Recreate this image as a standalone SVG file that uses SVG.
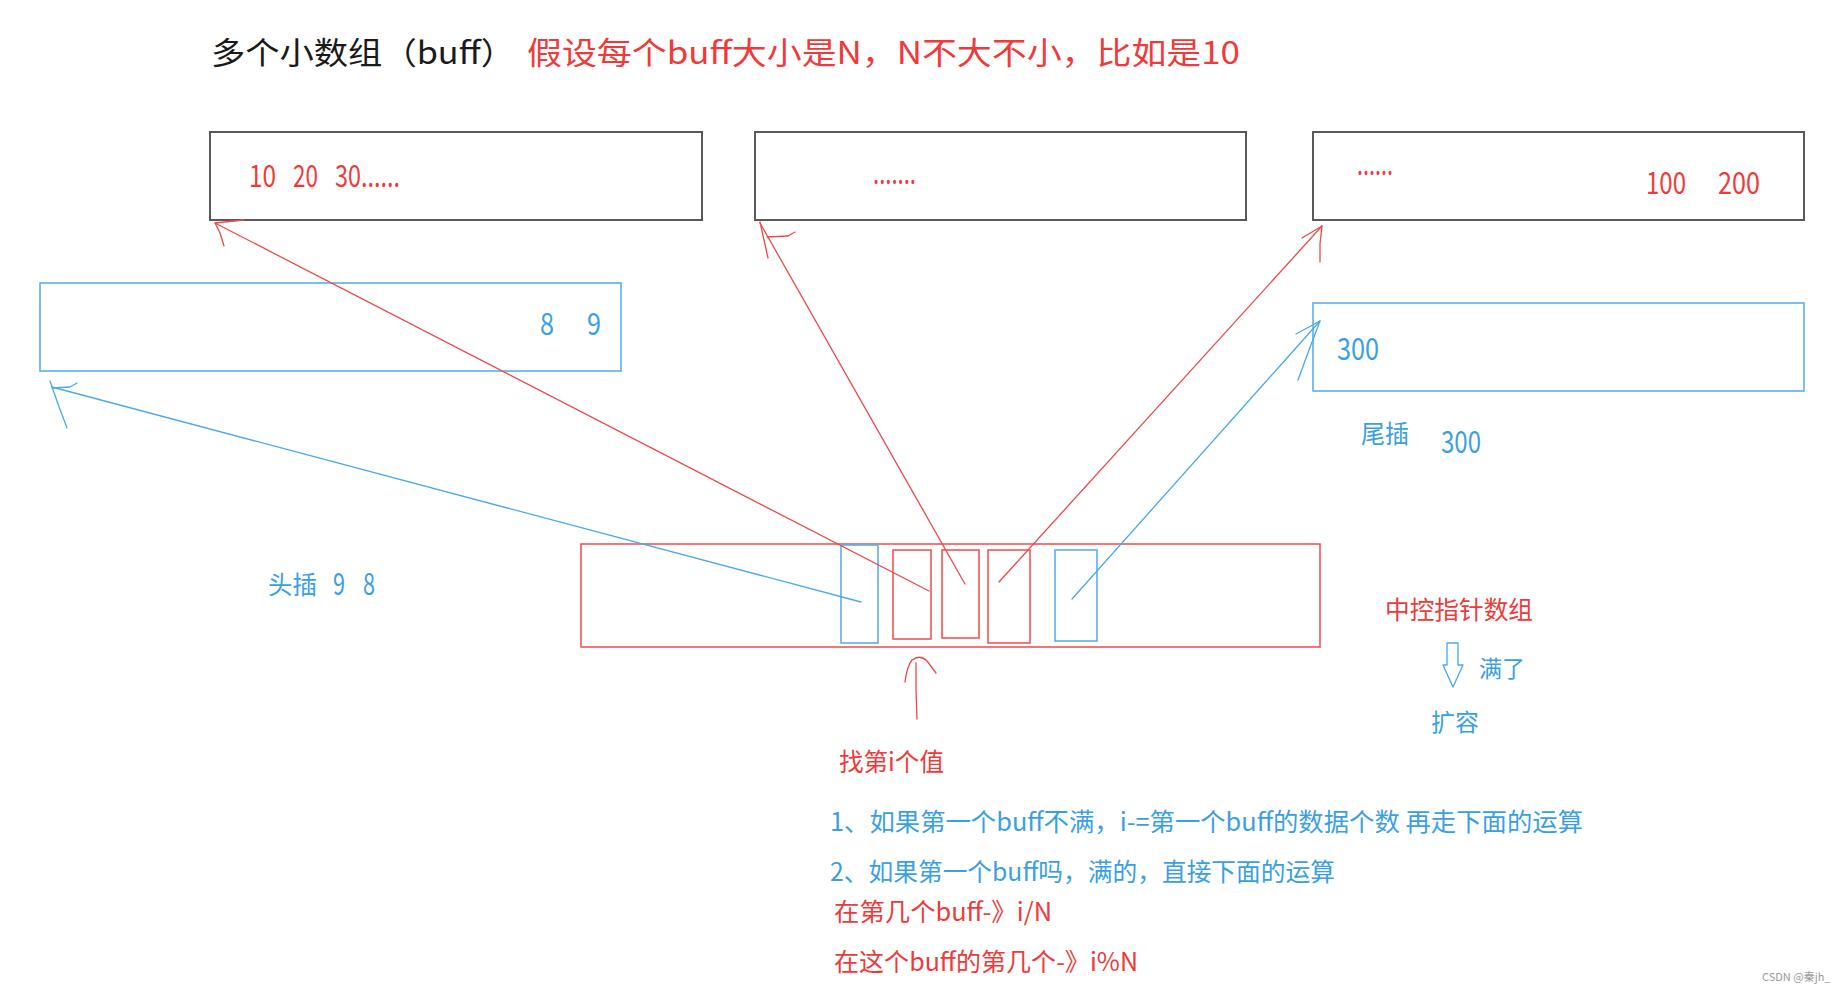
<svg xmlns="http://www.w3.org/2000/svg" width="1848" height="995" viewBox="0 0 1848 995">
<style>
text{font-family:"Noto Sans CJK SC","Noto Sans",sans-serif;}
.red{fill:#f03a3a;}
.blue{fill:#3aa0e6;}
.blk{fill:#1a1a1a;}
.num{font-size:30px;}
.cjk{font-size:25px;}
.box{fill:none;stroke:#5a5a5a;stroke-width:2;}
.bbox{fill:none;stroke:#5ab0ee;stroke-width:1.6;}
.rbox{fill:none;stroke:#f25656;stroke-width:1.6;}
.rl{fill:none;stroke:#f04848;stroke-width:1.3;stroke-linecap:round;stroke-linejoin:round;}
.bl{fill:none;stroke:#4aa8ec;stroke-width:1.3;stroke-linecap:round;stroke-linejoin:round;}
</style>
<rect width="1848" height="995" fill="#ffffff"/>

<g id="title">
<text class="blk" x="211" y="64" font-size="31" textLength="304" lengthAdjust="spacingAndGlyphs">多个小数组（buff）</text>
<text class="red" x="527" y="64" font-size="31" textLength="713" lengthAdjust="spacingAndGlyphs">假设每个buff大小是N，N不大不小，比如是10</text>
</g>

<g id="buff1">
<rect class="box" x="210" y="132" width="492" height="88"/>
<text class="red num" x="249" y="187" textLength="27" lengthAdjust="spacingAndGlyphs">10</text>
<text class="red num" x="293" y="187" textLength="25" lengthAdjust="spacingAndGlyphs">20</text>
<text class="red num" x="335" y="187" textLength="65" lengthAdjust="spacingAndGlyphs">30......</text>
</g>

<g id="buff2">
<rect class="box" x="755" y="132" width="491" height="88"/>
<text class="red num" x="873" y="184" textLength="43" lengthAdjust="spacingAndGlyphs">.......</text>
</g>

<g id="buff3">
<rect class="box" x="1313" y="132" width="491" height="88"/>
<text class="red num" x="1357" y="175" textLength="36" lengthAdjust="spacingAndGlyphs">......</text>
<text class="red num" x="1646" y="194" textLength="40" lengthAdjust="spacingAndGlyphs">100</text>
<text class="red num" x="1718" y="194" textLength="42" lengthAdjust="spacingAndGlyphs">200</text>
</g>

<g id="headbuff">
<rect class="bbox" x="40" y="283" width="581" height="88"/>
<text class="blue num" x="540" y="335" textLength="14" lengthAdjust="spacingAndGlyphs">8</text>
<text class="blue num" x="587" y="335" textLength="14" lengthAdjust="spacingAndGlyphs">9</text>
</g>

<g id="tailbuff">
<rect class="bbox" x="1313" y="303" width="491" height="88"/>
<text class="blue num" x="1337" y="360" textLength="42" lengthAdjust="spacingAndGlyphs">300</text>
</g>

<g id="tail-label">
<text class="blue cjk" x="1361" y="443" textLength="48" lengthAdjust="spacingAndGlyphs">尾插</text>
<text class="blue num" x="1441" y="453" textLength="40" lengthAdjust="spacingAndGlyphs">300</text>
</g>

<g id="head-label">
<text class="blue cjk" x="268" y="594" textLength="49" lengthAdjust="spacingAndGlyphs">头插</text>
<text class="blue num" x="333" y="595" font-size="28" textLength="12" lengthAdjust="spacingAndGlyphs">9</text>
<text class="blue num" x="363" y="595" font-size="28" textLength="12" lengthAdjust="spacingAndGlyphs">8</text>
</g>

<g id="map">
<rect class="rbox" x="581" y="544" width="739" height="103"/>
<rect class="bbox" x="841" y="545" width="37" height="98"/>
<rect class="rbox" x="893" y="550" width="38" height="89"/>
<rect class="rbox" x="942" y="550" width="37" height="88"/>
<rect class="rbox" x="988" y="550" width="42" height="93"/>
<rect class="bbox" x="1055" y="550" width="42" height="91"/>
</g>

<g id="map-label">
<text class="red cjk" x="1385" y="619" textLength="148" lengthAdjust="spacingAndGlyphs">中控指针数组</text>
<path class="bl" d="M1447,643 L1458,643 L1458,665 L1463,665 L1453,687 L1443,665 L1447,665 Z"/>
<text class="blue" x="1479" y="677" font-size="23" textLength="46" lengthAdjust="spacingAndGlyphs">满了</text>
<text class="blue" x="1431" y="731" font-size="24" textLength="48" lengthAdjust="spacingAndGlyphs">扩容</text>
</g>

<g id="notes">
<text class="red cjk" x="839" y="771" textLength="105" lengthAdjust="spacingAndGlyphs">找第i个值</text>
<text class="blue cjk" x="830" y="831" textLength="753" lengthAdjust="spacingAndGlyphs">1、如果第一个buff不满，i-=第一个buff的数据个数 再走下面的运算</text>
<text class="blue cjk" x="830" y="881" textLength="505" lengthAdjust="spacingAndGlyphs">2、如果第一个buff吗，满的，直接下面的运算</text>
<text class="red cjk" x="834" y="921" textLength="218" lengthAdjust="spacingAndGlyphs">在第几个buff-》i/N</text>
<text class="red cjk" x="834" y="971" textLength="304" lengthAdjust="spacingAndGlyphs">在这个buff的第几个-》i%N</text>
</g>

<g id="connectors">
<path class="rl" d="M929,591 L215,223"/>
<path class="rl" d="M215,223 L244,220 M215,223 L220,233 L224,246"/>
<path class="rl" d="M965,584 L760,223"/>
<path class="rl" d="M760,222 L764,240 L768,258 M767,237 L788,236 L795,232"/>
<path class="rl" d="M999,582 L1322,226"/>
<path class="rl" d="M1322,226 L1302,238 M1322,226 L1320,244 L1320,262"/>
<path class="bl" d="M861,602 L52,387"/>
<path class="bl" d="M50,381 L58,404 L67,428 M52,388 L70,387 L77,383"/>
<path class="bl" d="M1072,599 L1320,321"/>
<path class="bl" d="M1320,321 L1296,334 M1320,321 L1309,350 L1298,380"/>
<path class="rl" d="M917,719 L916,690 L916,663"/>
<path class="rl" d="M905,682 Q907,666 912,660 Q920,654 927,661 L936,673"/>
</g>

<text x="1762" y="981" font-size="11" fill="#9a9a9a" font-family="'Liberation Sans','Noto Sans CJK SC',sans-serif">CSDN @秦jh_</text>
</svg>
